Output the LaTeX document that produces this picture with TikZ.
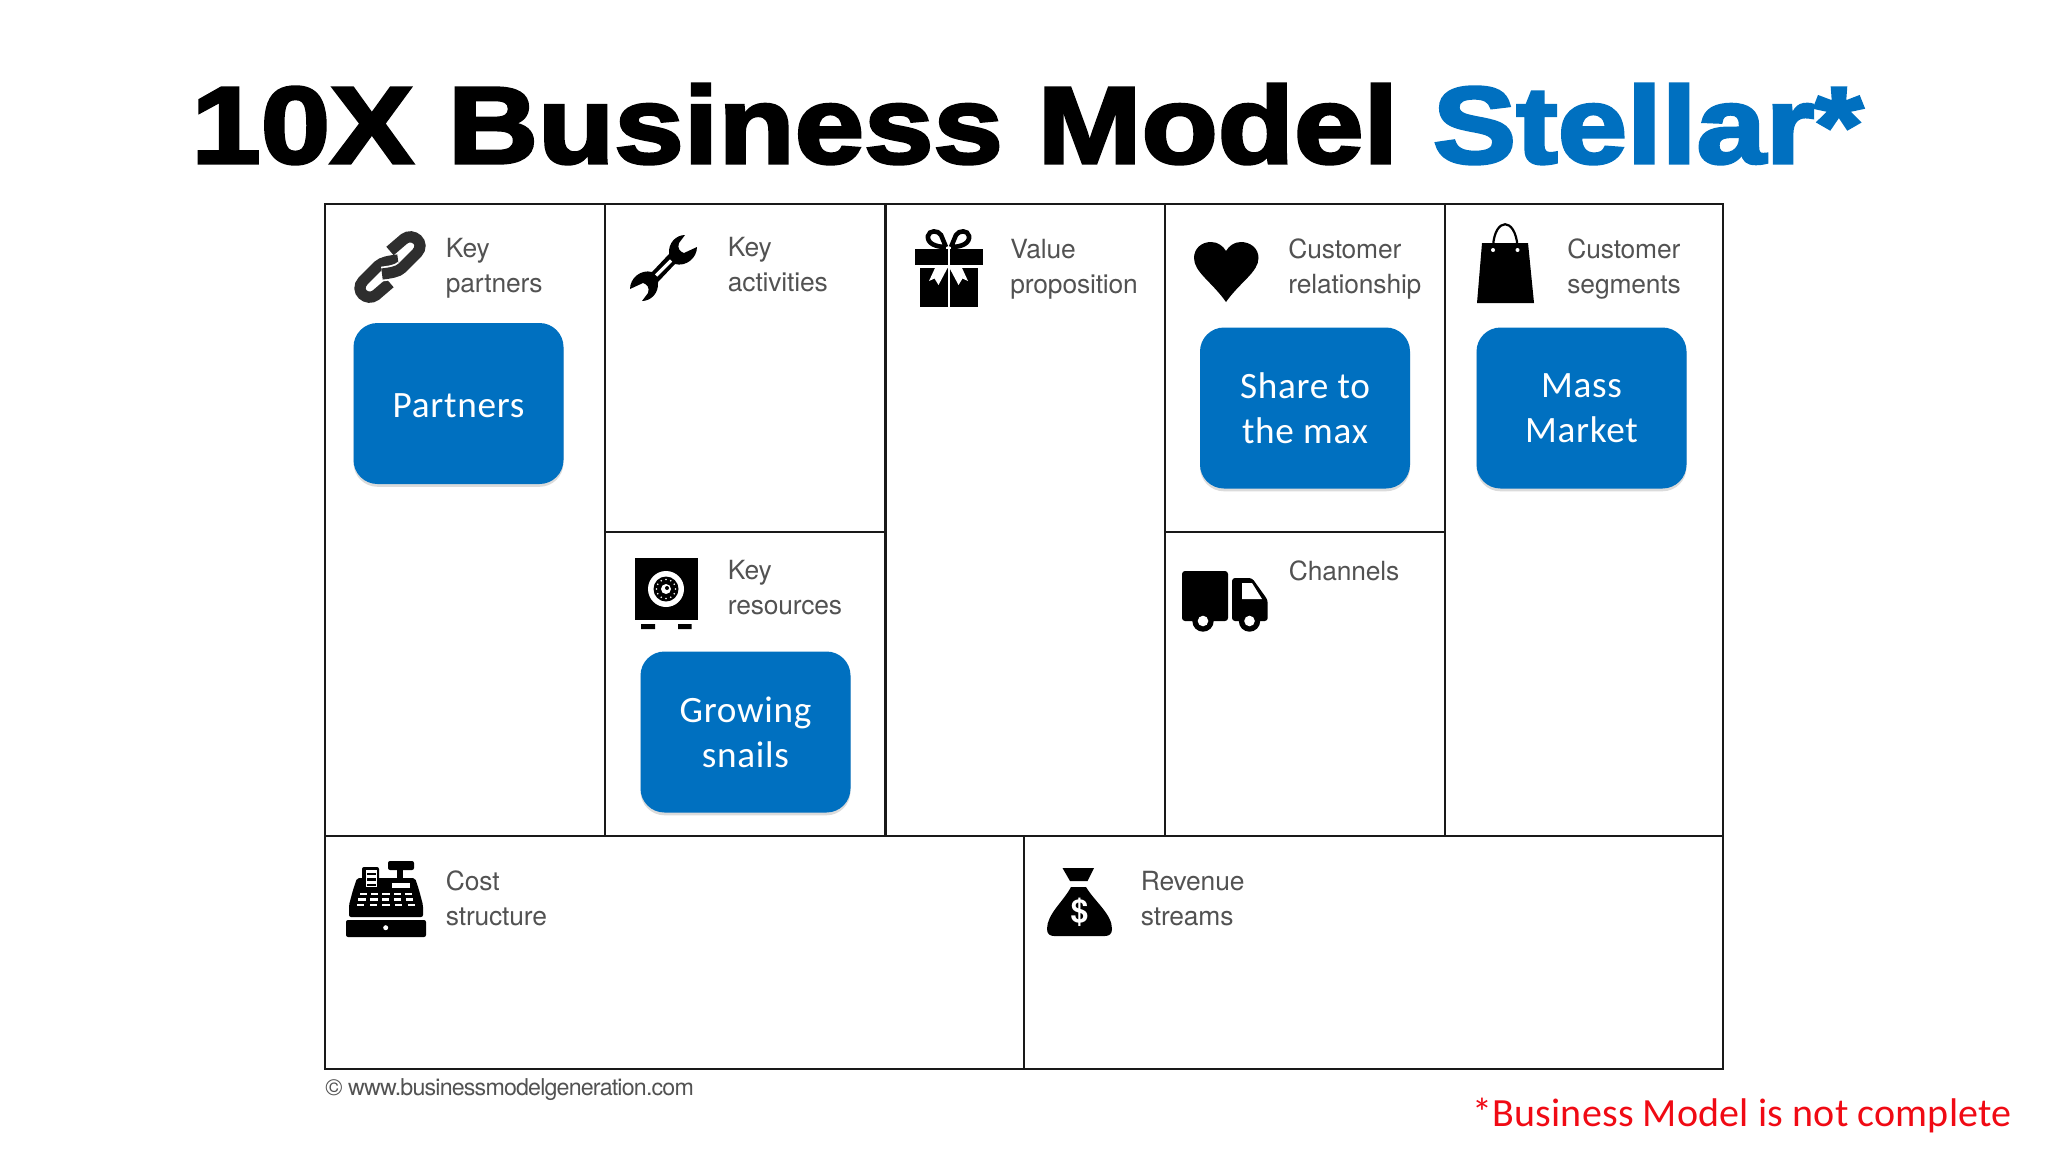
\documentclass[tikz,border=0pt]{standalone}
\usepackage{xcolor}
\usepackage{fontspec}
\usepackage{tikz}
\usetikzlibrary{shadows}
\setmainfont{TeX Gyre Heros}
\newfontfamily\titlefont[FakeBold=3,FakeStretch=1.145]{Liberation Sans}
\newfontfamily\boxfont{Carlito}
\definecolor{canvasblue}{RGB}{0, 112, 192}
\definecolor{notered}{RGB}{240, 10, 20}
\tikzstyle{blocklabel} = [anchor=base west, align=left, inner sep=0pt, text=black!68,
                          font={\fontsize{13.2}{17.4}\selectfont\addfontfeature{LetterSpace=-0.6}}]
\tikzstyle{bluebox} = [rectangle, rounded corners=12pt, fill=canvasblue, text=white, align=center,
                       minimum width=105pt, minimum height=80.5pt, inner sep=0pt,
                       font={\boxfont\fontsize{18.6}{22.4}\selectfont\addfontfeature{LetterSpace=2}},
                       drop shadow={shadow xshift=0pt, shadow yshift=-1.4pt, opacity=0.14, fill=black}]
\tikzstyle{gridline} = [draw=black!90, line width=1.2pt]
\tikzstyle{icon} = [fill=black, draw=none]

\begin{document}
\begin{tikzpicture}[x=0.5pt, y=-0.5pt]
    \useasboundingbox (0,0) rectangle (2048,1152);
    % title
    \node[anchor=base west, inner sep=0pt, font={\titlefont\bfseries\fontsize{54.5}{60}\selectfont}] (title) at (191,163)
        {10X Business Model \textcolor{canvasblue}{Stellar*}};
    % canvas grid
    \draw[gridline] (325,204) rectangle (1723,1069);
    \draw[gridline] (325,836) -- (1723,836);
    \draw[gridline] (1024,836) -- (1024,1069);
    \foreach \colx in {605,885.5,1165,1445} {
        \draw[gridline] (\colx,204) -- (\colx,836);
    }
    \draw[gridline] (605,532) -- (885.5,532);
    \draw[gridline] (1165,532) -- (1445,532);
    % block labels, two-line nodes sit on their last baseline
    \node[blocklabel] (partnerslabel) at (445.5,292) {Key\\partners};
    \node[blocklabel] (activitieslabel) at (727.5,291) {Key\\activities};
    \node[blocklabel] (valuelabel) at (1010,293) {Value\\proposition};
    \node[blocklabel] (relationlabel) at (1288,293) {Customer\\relationship};
    \node[blocklabel] (segmentslabel) at (1567,293) {Customer\\segments};
    \node[blocklabel] (resourceslabel) at (727.5,614) {Key\\resources};
    \node[blocklabel] (channelslabel) at (1288.5,580) {Channels};
    \node[blocklabel] (costlabel) at (445.5,925) {Cost\\structure};
    \node[blocklabel] (revenuelabel) at (1140.5,925) {Revenue\\streams};
    % blue boxes
    \node[bluebox] (partners) at (458.5,403.5) {\raisebox{-1pt}[\height][0pt]{Partners}};
    \node[bluebox] (snails) at (745.5,732) {Growing\\snails};
    \node[bluebox] (share) at (1305,408) {Share to\\the max};
    \node[bluebox] (market) at (1581.5,408) {Mass\\Market};
    % footnotes
    \node[anchor=base west, inner sep=0pt, text=black!68, font={\fontsize{11.6}{14}\selectfont\addfontfeature{LetterSpace=-3.5}}] (source) at (325,1095)
        {\textcopyright{} www.businessmodelgeneration.com};
    \node[anchor=base east, inner sep=0pt, text=notered, font={\boxfont\fontsize{20}{24}\selectfont\addfontfeature{LetterSpace=0.5}}] (incomplete) at (2012,1126)
        {*Business Model is not complete};
    % link icon
    \begin{scope}[line width=5.6pt, draw=black!82]
        \draw (390,283) -- (376,295) .. controls (367,302) and (354,291) .. (363,281) -- (378,266) .. controls (382,262) and (390,261) .. (398,260);
        \draw[white, line width=7.4pt] (402,268) .. controls (398,272) and (390,273) .. (382,274);
        \draw (390,251) -- (404,239) .. controls (413,232) and (426,243) .. (417,253) -- (402,268) .. controls (398,272) and (390,273) .. (382,274);
    \end{scope}
    % wrench icon
    \fill[icon] (685,235) -- (679,243) .. controls (677,248) and (680,252) .. (684,253) -- (697,247)
        .. controls (697,258) and (686,267) .. (675,264) -- (658,282)
        .. controls (659,293) and (651,301) .. (642,301) -- (648,293)
        .. controls (650,288) and (647,284) .. (643,283) -- (630,289)
        .. controls (630,278) and (641,269) .. (652,272) -- (669,254)
        .. controls (668,243) and (676,235) .. (685,235) -- cycle;
    \draw[white, line width=1.6pt] (656,275.5) -- (671,260.5);
    % gift icon
    \draw[line width=2.3pt] (946,247) .. controls (935,247) and (927,243) .. (928,236) .. controls (929,230) and (938,230) .. (941,235) -- (946,247);
    \draw[line width=2.3pt] (951,247) .. controls (962,247) and (970,243) .. (969,236) .. controls (968,230) and (959,230) .. (956,235) -- (951,247);
    \fill[icon] (915,249) rectangle (983,265);
    \fill[icon] (920,268) rectangle (978,307);
    \fill[white] (947.5,249) rectangle (949.5,307);
    \fill[white] (947.5,268) -- (935,268) -- (929,281) -- (934.5,278.5) -- (938.5,285) -- cycle;
    \fill[white] (949.5,268) -- (962,268) -- (968,281) -- (962.5,278.5) -- (958.5,285) -- cycle;
    % heart icon
    \fill[icon] (1226,302) .. controls (1212,282) and (1194,272) .. (1194,258)
        .. controls (1194,248) and (1202,242) .. (1211,242)
        .. controls (1218,242) and (1223,246) .. (1226,251)
        .. controls (1229,246) and (1234,242) .. (1241,242)
        .. controls (1250,242) and (1258.5,248) .. (1258.5,258)
        .. controls (1258.5,272) and (1240,282) .. (1226,302) -- cycle;
    % bag icon
    \draw[line width=1.1pt] (1493,246) .. controls (1495,217) and (1515,217) .. (1517.5,246);
    \fill[icon] (1482,243) -- (1528,243) -- (1534,303) -- (1477,303) -- cycle;
    \fill[white] (1493,250) circle (2) (1517.5,250) circle (2);
    % safe icon
    \fill[icon] (635,558) rectangle (697.5,620);
    \fill[icon] (641,624) rectangle (655,629) (678,624) rectangle (691.5,629);
    \fill[white] (666,589) circle (18);
    \fill[icon] (666,589) circle (12.5);
    \foreach \dialang in {0,30,...,330} {
        \fill[white] (666,589) ++(\dialang:9.5) circle (0.9);
    }
    \fill[white] (666,589) circle (5);
    \fill[icon] (667,588) circle (2);
    % truck icon
    \fill[icon, rounded corners=1.5pt] (1182,571) rectangle (1228,621);
    \fill[icon, rounded corners=1.5pt] (1232,578) -- (1252,578) -- (1267.7,600) -- (1267.7,621) -- (1232,621) -- cycle;
    \fill[white] (1242,583) -- (1252,583) -- (1262,599) -- (1242,599) -- cycle;
    \foreach \wheelx in {1203,1249.5} {
        \fill[icon] (\wheelx,621) circle (10.7);
        \fill[white] (\wheelx,621) circle (5.3);
    }
    % cash register icon
    \fill[icon, rounded corners=1pt] (346,920) rectangle (426,937);
    \fill[white] (385.7,927.7) circle (2.5);
    \fill[icon, rounded corners=1pt] (357,878) -- (415,878) -- (419,890) -- (423,905) -- (423,917) -- (349,917) -- (349,905) -- (353,890) -- cycle;
    \fill[icon, rounded corners=1pt] (362,867) rectangle (379,890);
    \fill[white] (365.5,870) rectangle (376.5,887);
    \foreach \barpos in {874,879.5,885} {
        \fill[icon] (367,\barpos-1.2) rectangle (375.5,\barpos+1.2);
    }
    \fill[icon, rounded corners=1pt] (388,861) rectangle (414,870);
    \fill[icon] (397,870) rectangle (403,880);
    \fill[white] (392,883) rectangle (410,888);
    \foreach \keyrow/\keystart/\keystep in {894/363.3/11.3,899.5/362/11.9,905/360.7/12.6} {
        \foreach \keycol in {0,...,4} {
            \fill[white] (\keystart+\keycol*\keystep-3.6,\keyrow-1.4) rectangle (\keystart+\keycol*\keystep+3.6,\keyrow+1.4);
        }
    }
    % money bag icon
    \fill[icon] (1062.5,868) -- (1094,868) -- (1087.5,881) -- (1070,881) -- cycle;
    \fill[icon] (1071,887) -- (1086,887) .. controls (1095,902) and (1112,914) .. (1112,929)
        .. controls (1112,934) and (1109,936) .. (1105,936) -- (1054,936)
        .. controls (1050,936) and (1047,934) .. (1047,929) .. controls (1047,914) and (1063,902) .. (1071,887) -- cycle;
    \node[inner sep=0pt, text=white, font={\bfseries\fontsize{16}{16}\selectfont}] (dollar) at (1079.5,912) {\$};
\end{tikzpicture}
\end{document}
